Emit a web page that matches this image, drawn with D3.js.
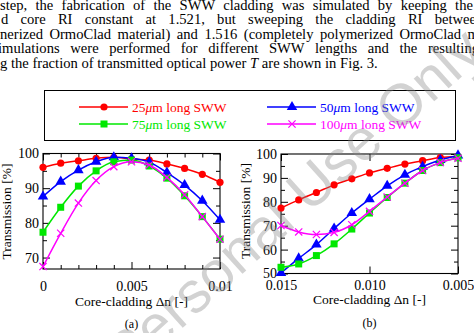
<!DOCTYPE html>
<html><head><meta charset="utf-8">
<script src="https://cdn.jsdelivr.net/npm/d3@7"></script>
<style>
html,body{margin:0;padding:0;background:#fff;}
svg{display:block;}
text{font-family:"Liberation Serif","Times New Roman",serif;fill:#000;}
text.wm{font-family:"Liberation Sans",Arial,sans-serif;}
</style></head><body>
<svg id="fig" width="474" height="333"></svg>
<script>
// Body text above the figure (left and right ends run past the page edge)
const paraLines = [
  {text: "step, the fabrication of the SWW cladding was simulated by keeping the", x0: 0, x1: 473},
  {text: "d core RI constant at 1.521, but sweeping the cladding RI betwee", x0: 1, x1: 476},
  {text: "nerized OrmoClad material) and 1.516 (completely polymerized OrmoClad m", x0: 0, x1: 479},
  {text: "imulations were performed for different SWW lengths and the resulting", x0: -2, x1: 479},
  {text: "g the fraction of transmitted optical power |T| are shown in Fig. 3.", x0: 0, x1: null}
];

// Series
const seriesLengths = ["25", "50", "75", "100"];
const seriesColors = ["#ff0000", "#0000ff", "#00e800", "#ff00ff"];
const seriesMarkers = ["circle", "triangle", "square", "cross"];

// Panel (a): core-cladding index difference 0 ... 0.01
const dnA = [0, 0.001, 0.002, 0.003, 0.004, 0.005, 0.006, 0.007, 0.008, 0.009, 0.01];
const tA25  = [96.0, 97.2, 97.9, 98.6, 98.9, 98.4, 98.1, 97.0, 95.7, 94.0, 91.7];
const tA50  = [87.6, 91.9, 95.2, 97.6, 98.9, 98.6, 97.5, 94.5, 90.9, 86.4, 80.9];
const tA75  = [77.3, 84.5, 90.6, 95.0, 97.6, 98.1, 96.4, 92.9, 87.8, 81.8, 75.3];
const tA100 = [67.4, 77.0, 85.7, 92.2, 96.2, 97.6, 96.7, 93.1, 88.1, 81.8, 75.3];

// Panel (b): core-cladding index difference 0.015 ... 0.005
const dnB = [0.015, 0.014, 0.013, 0.012, 0.011, 0.010, 0.009, 0.008, 0.007, 0.006, 0.005];
const tB25  = [77.4, 80.8, 83.9, 87.1, 89.6, 92.1, 94.0, 95.8, 97.2, 98.5, 99.0];
const tB50  = [50.2, 56.3, 62.1, 68.8, 75.3, 81.1, 86.7, 91.3, 94.7, 97.5, 99.4];
const tB75  = [52.6, 54.0, 57.5, 62.4, 68.6, 75.3, 81.8, 87.8, 93.1, 96.4, 98.4];
const tB100 = [70.1, 67.4, 66.3, 67.2, 70.4, 76.0, 82.0, 87.8, 93.1, 96.5, 98.2];

// Axis ticks
const xTicksA = [0, 0.005, 0.01];
const xTickLabelsA = ["0", "0.005", "0.01"];
const xMinorA = [0.001, 0.002, 0.003, 0.004, 0.006, 0.007, 0.008, 0.009];
const yTicksA = [70, 80, 90, 100];
const yMinorA = [75, 85, 95];
const xTicksB = [0.015, 0.010, 0.005];
const xTickLabelsB = ["0.015", "0.010", "0.005"];
const yTicksB = [50, 60, 70, 80, 90, 100];
const yMinorB = [55, 65, 75, 85, 95];

const svg = d3.select("#fig");
svg.append("rect").attr("width", 474).attr("height", 333).attr("fill", "#fff");

// ---- paragraph ----
const para = svg.append("g").attr("font-size", "14.6px");
paraLines.forEach((ln, i) => {
  const t = para.append("text").attr("x", ln.x0).attr("y", 10 + i * 14.45);
  ln.text.split("|").forEach((part, k) => {
    t.append("tspan").text(part).attr("font-style", k % 2 ? "italic" : null);
  });
  if (ln.x1 !== null) {
    const natural = t.node().getComputedTextLength();
    const gaps = (ln.text.match(/ /g) || []).length;
    t.attr("word-spacing", ((ln.x1 - ln.x0 - natural) / gaps).toFixed(2) + "px");
  }
});

// ---- legend ----
const leg = svg.append("g");
leg.append("rect").attr("x", 44.5).attr("y", 90.5).attr("width", 411).attr("height", 50)
  .attr("fill", "none").attr("stroke", "#000").attr("stroke-width", 1);

function marker(g, type, x, y, color) {
  if (type === "circle") {
    g.append("circle").attr("cx", x).attr("cy", y).attr("r", 3.6).attr("fill", color);
  } else if (type === "triangle") {
    g.append("path").attr("transform", `translate(${x},${y})`)
      .attr("d", d3.symbol(d3.symbolTriangle, 48)()).attr("fill", color);
  } else if (type === "square") {
    g.append("rect").attr("x", x - 3.5).attr("y", y - 3.5).attr("width", 7).attr("height", 7).attr("fill", color);
  } else {
    const s = 3.6;
    g.append("path").attr("d", `M${x - s},${y - s}L${x + s},${y + s}M${x - s},${y + s}L${x + s},${y - s}`)
      .attr("stroke", color).attr("stroke-width", 1.2).attr("fill", "none");
  }
}

const legPos = [[79, 107], [267, 107], [79, 124], [267, 124]];
seriesLengths.forEach((L, i) => {
  const [lx, ly] = legPos[i];
  leg.append("line").attr("x1", lx).attr("x2", lx + 49).attr("y1", ly).attr("y2", ly)
    .attr("stroke", seriesColors[i]).attr("stroke-width", 1.4);
  marker(leg, seriesMarkers[i], lx + 25, ly, seriesColors[i]);
  const t = leg.append("text").attr("x", lx + 53).attr("y", ly + 4.5).attr("font-size", "13.5px")
    .style("fill", seriesColors[i]);
  t.append("tspan").text(L);
  t.append("tspan").text("\u03bc").attr("font-style", "italic");
  t.append("tspan").text("m long SWW");
});

// ---- panels ----
function panel(cfg) {
  const g = svg.append("g");
  const x = d3.scaleLinear().domain(cfg.xDomain).range([cfg.left, cfg.right]);
  const y = d3.scaleLinear().domain(cfg.yDomain).range([cfg.bottom, cfg.top]);

  const fmtX = v => cfg.xLabels[cfg.xTicks.indexOf(v)];
  // bottom / top
  g.append("g").attr("transform", `translate(0,${cfg.bottom})`)
    .call(d3.axisBottom(x).tickValues(cfg.xTicks).tickFormat(fmtX).tickSize(-7).tickSizeOuter(0).tickPadding(cfg.xPad));
  g.append("g").attr("transform", `translate(0,${cfg.top})`)
    .call(d3.axisTop(x).tickValues(cfg.xTicks).tickFormat("").tickSize(-7).tickSizeOuter(0));
  if (cfg.xMinor.length) {
    g.append("g").attr("transform", `translate(0,${cfg.bottom})`)
      .call(d3.axisBottom(x).tickValues(cfg.xMinor).tickFormat("").tickSize(-4).tickSizeOuter(0));
    g.append("g").attr("transform", `translate(0,${cfg.top})`)
      .call(d3.axisTop(x).tickValues(cfg.xMinor).tickFormat("").tickSize(-4).tickSizeOuter(0));
  }
  // left / right
  g.append("g").attr("transform", `translate(${cfg.left},0)`)
    .call(d3.axisLeft(y).tickValues(cfg.yTicks).tickFormat(d3.format("d")).tickSize(-7).tickSizeOuter(0).tickPadding(4));
  g.append("g").attr("transform", `translate(${cfg.right},0)`)
    .call(d3.axisRight(y).tickValues(cfg.yTicks).tickFormat("").tickSize(-7).tickSizeOuter(0));
  g.append("g").attr("transform", `translate(${cfg.left},0)`)
    .call(d3.axisLeft(y).tickValues(cfg.yMinor).tickFormat("").tickSize(-4).tickSizeOuter(0));
  g.append("g").attr("transform", `translate(${cfg.right},0)`)
    .call(d3.axisRight(y).tickValues(cfg.yMinor).tickFormat("").tickSize(-4).tickSizeOuter(0));

  g.selectAll(".domain").remove();
  g.selectAll(".tick line").attr("stroke", "#000").attr("stroke-width", 1);
  g.selectAll(".tick text").attr("font-size", "14px").style("fill", "#000");

  g.append("rect").attr("x", cfg.left).attr("y", cfg.top)
    .attr("width", cfg.right - cfg.left).attr("height", cfg.bottom - cfg.top)
    .attr("fill", "none").attr("stroke", "#000").attr("stroke-width", 1.1);

  // curves and markers
  const line = d3.line().x(d => x(d[0])).y(d => y(d[1])).curve(d3.curveMonotoneX);
  cfg.series.forEach((vals, i) => {
    const pts = cfg.xs.map((v, k) => [v, vals[k]]);
    g.append("path").attr("d", line(pts)).attr("fill", "none")
      .attr("stroke", seriesColors[i]).attr("stroke-width", 1.5);
    pts.forEach(p => marker(g, seriesMarkers[i], x(p[0]), y(p[1]), seriesColors[i]));
  });

  // titles
  g.append("text").attr("x", (cfg.left + cfg.right) / 2).attr("y", cfg.xTitleY)
    .attr("text-anchor", "middle").attr("font-size", "13.5px").text("Core-cladding \u0394n [-]");
  g.append("text").attr("transform", `translate(${cfg.yTitleX},${cfg.yTitleY}) rotate(-90)`)
    .attr("text-anchor", "middle").attr("font-size", "13.5px").text("Transmission [%]");
  g.append("text").attr("x", (cfg.left + cfg.right) / 2).attr("y", cfg.capY)
    .attr("text-anchor", "middle").attr("font-size", "12px").text(cfg.caption);
}

panel({
  left: 43, right: 220, top: 153.5, bottom: 269,
  xDomain: [0, 0.01], yDomain: [66.7, 100],
  xTicks: xTicksA, xLabels: xTickLabelsA, xMinor: xMinorA, xPad: 12,
  yTicks: yTicksA, yMinor: yMinorA,
  xs: dnA, series: [tA25, tA50, tA75, tA100],
  xTitleY: 306, yTitleX: 11, yTitleY: 211.5, capY: 328, caption: "(a)"
});
panel({
  left: 281, right: 458, top: 154, bottom: 273.5,
  xDomain: [0.015, 0.005], yDomain: [50, 100],
  xTicks: xTicksB, xLabels: xTickLabelsB, xMinor: [], xPad: 7,
  yTicks: yTicksB, yMinor: yMinorB,
  xs: dnB, series: [tB25, tB50, tB75, tB100],
  xTitleY: 304, yTitleX: 249.5, yTitleY: 211, capY: 327, caption: "(b)"
});

// ---- watermark ----
svg.append("text").attr("class", "wm")
  .attr("transform", "translate(127,378) rotate(-42)")
  .attr("font-size", "58px")
  .style("fill", "#888").attr("fill-opacity", 0.38)
  .text("Personal Use Only");
</script>
</body></html>
